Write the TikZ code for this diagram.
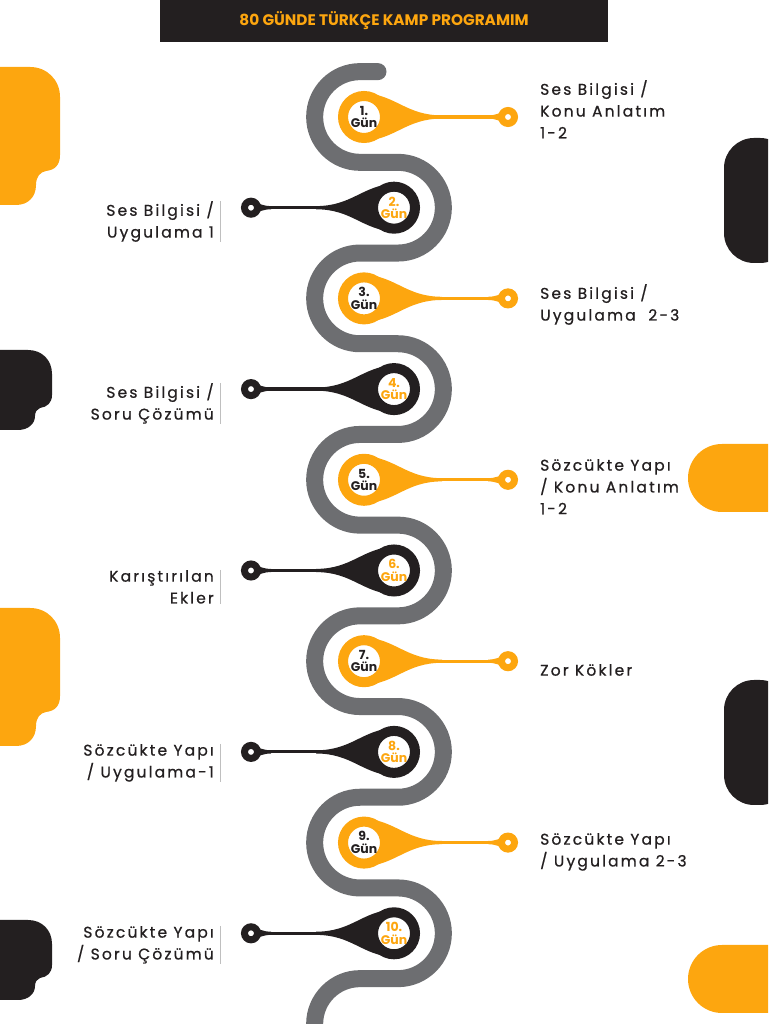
\documentclass[tikz,border=0pt]{standalone}
\usepackage{fontspec}
\setmainfont{Poppins}
\newfontfamily\labelfont{Poppins}[LetterSpace=14, FakeBold=0.7]
\usetikzlibrary{calc}

\definecolor{kamporange}{RGB}{253,166,15}
\definecolor{kampblack}{RGB}{35,31,32}
\definecolor{kampgrey}{RGB}{109,110,113}

\tikzset{
  road/.style={draw=kampgrey, line width=17pt, line cap=round},
  daycirc/.style={circle, draw=#1, fill=white, line width=10pt, minimum size=42pt,
    inner sep=0pt, align=center, font=\bfseries\fontsize{12.5}{12.5}\selectfont},
  enddot/.style={circle, draw=#1, fill=white, line width=7pt, minimum size=13pt, inner sep=0pt},
  tailline/.style={draw=#1, line width=3.2pt},
  rlabel/.style={anchor=north west, align=left, inner sep=0pt, text=kampblack,
    font=\labelfont\fontsize{15.5}{21.8}\selectfont},
  llabel/.style={rlabel, anchor=north east, align=right},
  sepline/.style={draw=black!25, line width=0.6pt},
  title/.style={fill=kampblack, text=kamporange, minimum width=448pt, minimum height=42pt,
    inner sep=0pt, font=\bfseries\fontsize{15.3}{16}\selectfont},
  pics/bigblob/.style={code={
    \fill[#1] (0,0) -- (30,0) .. controls (47,0) and (60,-13) .. (60,-30)
      -- (60,-88) .. controls (60,-98) and (55,-103) .. (46,-104)
      .. controls (40,-105) and (36,-110) .. (36,-118)
      .. controls (36,-130) and (28,-138) .. (16,-138) -- (0,-138) -- cycle;
  }},
  pics/smallblob/.style={code={
    \fill[#1] (0,0) -- (28,0) .. controls (42,0) and (52,-10) .. (52,-24)
      -- (52,-45) .. controls (52,-53) and (47,-57) .. (40,-58)
      .. controls (37,-59) and (35,-62) .. (35,-66)
      .. controls (35,-74) and (28,-80) .. (18,-80) -- (0,-80) -- cycle;
  }},
}

\begin{document}
\begin{tikzpicture}[x=1pt, y=1pt]
\useasboundingbox (0,0) rectangle (768,1024);
\clip (0,0) rectangle (768,1024);

% side decorations
\pic at (0,957) {bigblob=kamporange};
\pic at (0,416) {bigblob=kamporange};
\pic at (0,674) {smallblob=kampblack};
\pic at (0,104) {smallblob=kampblack};
\fill[kampblack, rounded corners=30pt] (790,886) -- (724,886) -- (724,761) -- (790,761) -- cycle;
\fill[kampblack, rounded corners=30pt] (790,344) -- (724,344) -- (724,219) -- (790,219) -- cycle;
\fill[kamporange] (790,580) -- (722,580) arc[start angle=90, end angle=270, radius=34] -- (790,512) -- cycle;
\fill[kamporange] (790,79) -- (722,79) arc[start angle=90, end angle=270, radius=34] -- (790,11) -- cycle;

% title bar
\node[title] (title) at (384,1003) {80 GÜNDE TÜRKÇE KAMP PROGRAMIM};

% winding road
\draw[road] (378,952.35) -- (360,952.35)
  \foreach \k in {1,3,5,7,9} {
    arc[start angle=90, end angle=270, radius=45.35]
    -- (398,{90.7*(11-\k)-45.35})
    arc[start angle=90, end angle=-90, radius=45.35]
    -- (360,{90.7*(10-\k)-45.35})
  }
  arc[start angle=90, end angle=180, radius=45.35] -- ++(0,-20);

% day pins
\foreach \k in {1,...,10} {
  \pgfmathsetmacro\cy{90.7*(11-\k)}
  \ifodd\k\relax
    \def\cx{364}\def\tipx{508}\def\side{1}\def\pinc{kamporange}\def\pint{kampblack}
  \else
    \def\cx{394}\def\tipx{251}\def\side{-1}\def\pinc{kampblack}\def\pint{kamporange}
  \fi
  \fill[\pinc] (\cx,\cy+24) .. controls (\cx+\side*32,\cy+22) and (\cx+\side*42,\cy+1.6) .. (\cx+\side*78,\cy+1.6)
    -- (\cx+\side*78,\cy-1.6) .. controls (\cx+\side*42,\cy-1.6) and (\cx+\side*32,\cy-22) .. (\cx,\cy-24) -- cycle;
  \fill[\pinc] (\tipx-\side*20,\cy+1.6) .. controls (\tipx-\side*12,\cy+1.6) and (\tipx-\side*10,\cy+4) .. (\tipx,\cy+6)
    -- (\tipx,\cy-6) .. controls (\tipx-\side*10,\cy-4) and (\tipx-\side*12,\cy-1.6) .. (\tipx-\side*20,\cy-1.6) -- cycle;
  \node[daycirc=\pinc, text=\pint] (g\k) at (\cx,\cy) {\k.\\Gün};
  \node[enddot=\pinc] (e\k) at (\tipx,\cy) {};
  \draw[tailline=\pinc] (g\k) -- (e\k);
}

% labels
\node[rlabel] (l1) at (540,944) {Ses Bilgisi /\\Konu Anlatım\\1-2};
\node[llabel] (l2) at (214,823) {Ses Bilgisi /\\Uygulama 1};
\node[rlabel] (l3) at (540,740) {Ses Bilgisi /\\Uygulama\ \ 2-3};
\node[llabel] (l4) at (214,641) {Ses Bilgisi /\\Soru Çözümü};
\node[rlabel] (l5) at (540,565) {Sözcükte Yapı\\/ Konu Anlatım\\1-2};
\node[llabel] (l6) at (214,454) {Karıştırılan\\Ekler};
\node[rlabel] (l7) at (540,360) {Zor Kökler};
\node[llabel] (l8) at (214,280) {Sözcükte Yapı\\/ Uygulama-1};
\node[rlabel] (l9) at (540,191) {Sözcükte Yapı\\/ Uygulama 2-3};
\node[llabel] (l10) at (214,98) {Sözcükte Yapı\\/ Soru Çözümü};
\foreach \n in {2,4,6,8,10}
  \draw[sepline] ([xshift=6pt]l\n.north east) -- ([xshift=6pt]l\n.south east);
\end{tikzpicture}
\end{document}
